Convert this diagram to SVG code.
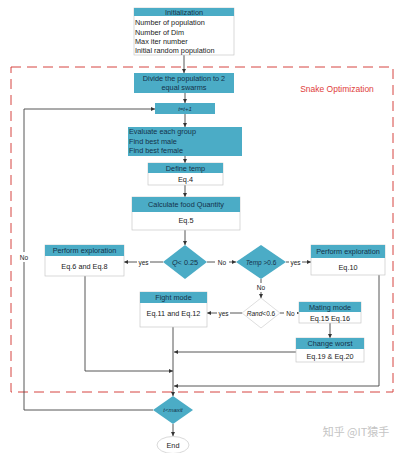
<svg xmlns="http://www.w3.org/2000/svg" width="408" height="453" viewBox="0 0 408 453">
<defs>
<marker id="ah" viewBox="0 0 6 6" refX="6" refY="3" markerWidth="4" markerHeight="4" orient="auto" markerUnits="userSpaceOnUse">
<path d="M0,0 L6,3 L0,6 z" fill="#333"/>
</marker>
</defs>
<style>
text{font-family:"Liberation Sans",Arial,sans-serif;font-size:7.3px;fill:#1a1a1a}
.hd{fill:#4bacc6}
.bd{fill:#fff;stroke:#c8c8c8;stroke-width:0.7}
.ht{fill:#14324a;text-anchor:middle}
.c{text-anchor:middle}
.ln{fill:none;stroke:#444;stroke-width:0.9}
.ar{marker-end:url(#ah)}
.lbl{font-size:6.5px;text-anchor:middle}
.it{font-style:italic}
</style>
<rect width="408" height="453" fill="#fff"/>

<g id="region">
<rect x="11" y="67" width="382" height="325" fill="none" stroke="#d64541" stroke-width="1" stroke-dasharray="10,6"/>
<text x="337" y="92" style="font-size:8.5px;fill:#e0403a" text-anchor="middle">Snake Optimization</text>
</g>

<g id="connectors">
<line class="ln ar" x1="184" y1="55" x2="184" y2="73"/>
<line class="ln ar" x1="185" y1="93" x2="185" y2="103"/>
<line class="ln ar" x1="185" y1="114" x2="185" y2="127"/>
<line class="ln ar" x1="185" y1="156" x2="185" y2="163"/>
<line class="ln ar" x1="185" y1="185" x2="185" y2="197"/>
<line class="ln ar" x1="185" y1="230" x2="185" y2="245"/>
<line class="ln ar" x1="163" y1="262" x2="124" y2="262"/>
<line class="ln ar" x1="207" y1="262" x2="236" y2="262"/>
<line class="ln ar" x1="286" y1="262" x2="311" y2="262"/>
<line class="ln ar" x1="261" y1="279" x2="261" y2="298"/>
<line class="ln ar" x1="242" y1="313" x2="207" y2="313"/>
<line class="ln ar" x1="280" y1="313" x2="299" y2="313"/>
<line class="ln ar" x1="330" y1="323" x2="330" y2="338"/>
<line class="ln ar" x1="296" y1="352" x2="174" y2="352"/>
<polyline class="ln ar" points="85,276 85,371 173,371"/>
<polyline class="ln ar" points="379,275 379,386 174,386"/>
<line class="ln ar" x1="173" y1="327" x2="173" y2="396"/>
<line class="ln ar" x1="173" y1="424" x2="173" y2="436"/>
<polyline class="ln ar" points="153,410 24,410 24,109 155,109"/>
<rect x="16" y="252" width="16" height="10" fill="#fff"/>
<text x="24" y="260" class="lbl">No</text>
<rect x="137" y="258" width="13" height="8" fill="#fff"/>
<text x="143.5" y="264.5" class="lbl">yes</text>
<rect x="215" y="258" width="14" height="8" fill="#fff"/>
<text x="222" y="264.5" class="lbl">No</text>
<rect x="289" y="258" width="13" height="8" fill="#fff"/>
<text x="295.5" y="264.5" class="lbl">yes</text>
<rect x="254" y="283" width="14" height="9" fill="#fff"/>
<text x="261" y="290" class="lbl">No</text>
<rect x="217" y="309" width="13" height="8" fill="#fff"/>
<text x="223.5" y="315.5" class="lbl">yes</text>
<rect x="284" y="309" width="13" height="8" fill="#fff"/>
<text x="290.5" y="315.5" class="lbl">No</text>
</g>

<g id="init">
<rect class="bd" x="134" y="8" width="100" height="47"/>
<rect class="hd" x="134" y="8" width="100" height="8"/>
<text x="184" y="14.5" class="ht">Initialization</text>
<text x="135" y="25">Number of population</text>
<text x="135" y="34.5">Number of Dim</text>
<text x="135" y="44">Max iter number</text>
<text x="135" y="53">Initial random population</text>
</g>

<g id="divide">
<rect class="hd" x="134" y="73" width="100" height="20"/>
<text x="184" y="81" class="ht">Divide the population to 2</text>
<text x="184" y="90" class="ht">equal swarms</text>
</g>

<g id="incr">
<rect class="hd" x="155" y="103" width="60" height="11"/>
<text x="185" y="111" class="ht it" style="font-size:6px">t=t+1</text>
</g>

<g id="evaluate">
<rect class="hd" x="128" y="127" width="114" height="29"/>
<text x="129" y="134" style="fill:#14324a">Evaluate each group</text>
<text x="129" y="143.5" style="fill:#14324a">Find best male</text>
<text x="129" y="153" style="fill:#14324a">Find best female</text>
</g>

<g id="temp">
<rect class="bd" x="148" y="163" width="75" height="22"/>
<rect class="hd" x="148" y="163" width="75" height="10"/>
<text x="185.5" y="170.5" class="ht">Define temp</text>
<text x="185.5" y="182" class="c">Eq.4</text>
</g>

<g id="food">
<rect class="bd" x="132" y="197" width="108" height="33"/>
<rect class="hd" x="132" y="197" width="108" height="15"/>
<text x="186" y="207" class="ht">Calculate food Quantity</text>
<text x="186" y="223" class="c">Eq.5</text>
</g>

<g id="q">
<polygon points="185,245 207,262 185,279 163,262" fill="#4bacc6"/>
<text x="185" y="264.5" class="ht"><tspan class="it">Q</tspan>&lt; 0.25</text>
</g>

<g id="tempdec">
<polygon points="261,245 286,262 261,279 236,262" fill="#4bacc6"/>
<text x="261" y="264.5" class="ht" style="font-size:6.5px"><tspan class="it">Temp</tspan> &gt;0.6</text>
</g>

<g id="explL">
<rect class="bd" x="45" y="245" width="79" height="31"/>
<rect class="hd" x="45" y="245" width="79" height="11"/>
<text x="84.5" y="253" class="ht">Perform exploration</text>
<text x="84.5" y="269" class="c">Eq.6 and Eq.8</text>
</g>

<g id="explR">
<rect class="bd" x="311" y="245" width="74" height="30"/>
<rect class="hd" x="311" y="245" width="74" height="13"/>
<text x="348" y="254" class="ht">Perform exploration</text>
<text x="348" y="269.5" class="c">Eq.10</text>
</g>

<g id="rand">
<polygon points="261,298 280,313 261,328 242,313" fill="#fff" stroke="#d0d0d0" stroke-width="0.7"/>
<text x="261" y="315.5" class="c" style="font-size:6.5px"><tspan class="it">Rand</tspan>&lt;0.6</text>
</g>

<g id="fight">
<rect class="bd" x="140" y="292" width="67" height="35"/>
<rect class="hd" x="140" y="292" width="67" height="11"/>
<text x="173.5" y="300" class="ht">Fight mode</text>
<text x="173.5" y="315.5" class="c">Eq.11 and Eq.12</text>
</g>

<g id="mating">
<rect class="bd" x="299" y="302" width="62" height="21"/>
<rect class="hd" x="299" y="302" width="62" height="10"/>
<text x="330" y="309.5" class="ht">Mating mode</text>
<text x="330" y="320.5" class="c">Eq.15 Eq.16</text>
</g>

<g id="worst">
<rect class="bd" x="296" y="338" width="68" height="24"/>
<rect class="hd" x="296" y="338" width="68" height="11"/>
<text x="330" y="346" class="ht">Change worst</text>
<text x="330" y="358.5" class="c">Eq.19 &amp; Eq.20</text>
</g>

<g id="maxit">
<polygon points="173,396 193,410 173,424 153,410" fill="#4bacc6"/>
<text x="173" y="412" class="ht it" style="font-size:6px">t&lt;maxit</text>
</g>

<g id="end">
<ellipse cx="173" cy="445" rx="16" ry="8.5" fill="#fff" stroke="#c8c8c8" stroke-width="0.7"/>
<text x="173" y="447.5" class="c">End</text>
</g>

<text x="356" y="436" text-anchor="middle" style="font-family:'Noto Sans CJK SC','Liberation Sans',sans-serif;font-size:11px;fill:#c4c4c4">知乎 @IT猿手</text>
</svg>
